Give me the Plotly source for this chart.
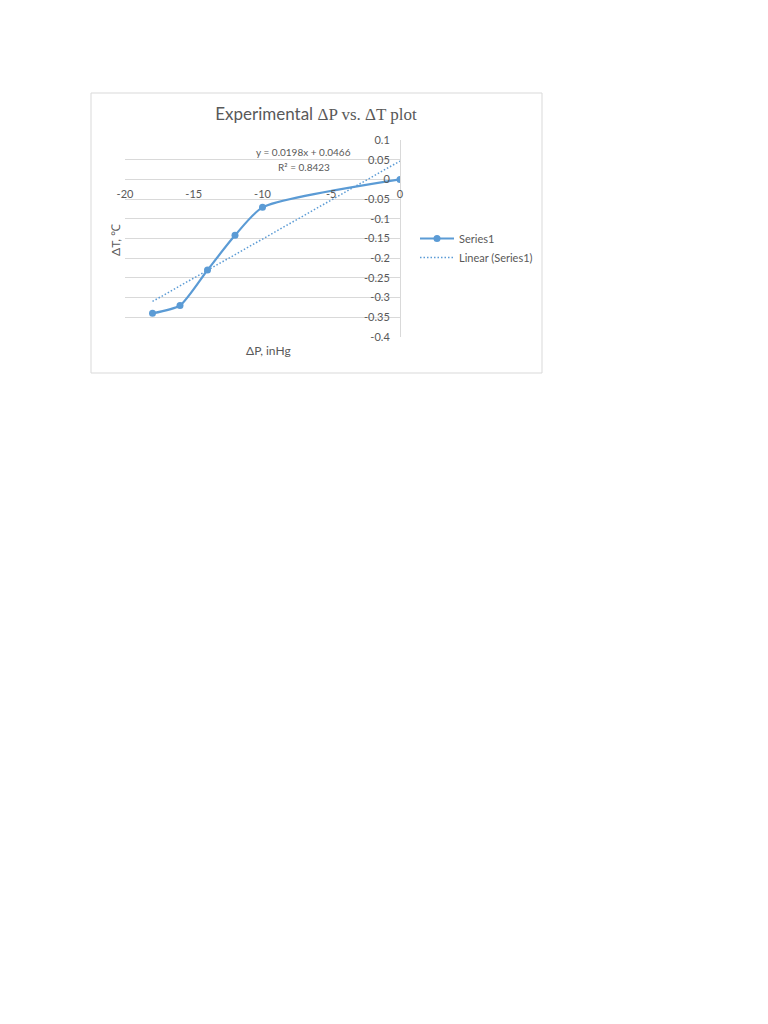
import plotly.graph_objects as go

# Data
dp = [-18, -16, -14, -12, -10, 0]
dt = [-0.34, -0.32, -0.23, -0.142, -0.071, 0]

# Excel linear trendline: y = 0.0198x + 0.0466
slope = 0.0198
intercept = 0.0466
trend_x = [-18, 0]
trend_y = [slope * x + intercept for x in trend_x]

x_ticks = [-20, -15, -10, -5, 0]
x_labels = ['-20', '-15', '-10', '-5', '0']
y_ticks = [0.1, 0.05, 0, -0.05, -0.1, -0.15, -0.2, -0.25, -0.3, -0.35, -0.4]
y_labels = ['0.1', '0.05', '0', '-0.05', '-0.1', '-0.15', '-0.2', '-0.25', '-0.3', '-0.35', '-0.4']

blue = '#5B9BD5'
grey_text = '#595959'
grid = '#D9D9D9'

# page body has an 8px margin, so the figure is 752x1008 drawn at (8, 8)
W, H = 752, 1008
L, T = 117, 132
PW, PH = 275, 197

fig = go.Figure()
fig.add_trace(go.Scatter(
    x=dp, y=dt, mode='lines+markers', name='Series1',
    line=dict(color=blue, width=2.2, shape='spline', smoothing=0.6),
    marker=dict(color=blue, size=7),
))
fig.add_trace(go.Scatter(
    x=trend_x, y=trend_y, mode='lines', name='Linear (Series1)',
    line=dict(color=blue, width=1.5, dash='1.5px,2px'),
))

fig.update_layout(
    width=W, height=H,
    margin=dict(l=L, r=W - L - PW, t=T, b=H - T - PH),
    paper_bgcolor='white', plot_bgcolor='white',
    font=dict(family='Lato, Open Sans, sans-serif', color=grey_text, size=11),
    showlegend=True,
    legend=dict(x=(415 - 125) / PW, y=(337 - 224) / PH, xanchor='left', yanchor='top',
                font=dict(size=11, color=grey_text), tracegroupgap=0,
                itemwidth=34, bgcolor='rgba(0,0,0,0)'),
    xaxis=dict(range=[-20, 0], tickvals=x_ticks, ticktext=x_labels,
               anchor='free', position=0.8, showgrid=False, zeroline=False,
               showline=False, ticks='outside', ticklen=4, tickcolor='rgba(0,0,0,0)',
               fixedrange=True),
    yaxis=dict(range=[-0.4, 0.1], tickvals=y_ticks, ticktext=y_labels,
               anchor='free', position=1.0, side='left', showgrid=True,
               gridcolor=grid, gridwidth=1, zeroline=False, showline=True,
               linecolor=grid, ticks='outside', ticklen=8, tickcolor='rgba(0,0,0,0)',
               fixedrange=True),
    title=dict(
        text="Experimental <span style='font-family:Liberation Serif'>ΔP vs. ΔT plot</span>",
        x=(316 - 8) / W, xanchor='center', y=1 - (114 - 8) / H, yanchor='middle',
        font=dict(size=17, color=grey_text, family='Lato, sans-serif'),
    ),
)

# Chart frame like the Excel chart area
fig.add_shape(type='rect', xref='paper', yref='paper',
              x0=(91 - 125) / PW, x1=(542 - 125) / PW,
              y0=(337 - 373) / PH, y1=(337 - 93) / PH,
              line=dict(color='#D9D9D9', width=1), fillcolor='rgba(0,0,0,0)')

# Trendline equation
fig.add_annotation(x=-7.0, y=0.069, xref='x', yref='y', showarrow=False,
                   text='y = 0.0198x + 0.0466', font=dict(size=10, color=grey_text))
fig.add_annotation(x=-7.0, y=0.031, xref='x', yref='y', showarrow=False,
                   text='R² = 0.8423', font=dict(size=10, color=grey_text))

# Axis titles
fig.add_annotation(x=(268 - 125) / PW, y=(337 - 350) / PH, xref='paper', yref='paper',
                   xanchor='center', yanchor='middle',
                   showarrow=False, text='ΔP, inHg', font=dict(size=12, color=grey_text))
fig.add_annotation(x=(115 - 125) / PW, y=(337 - 240) / PH, xref='paper', yref='paper',
                   xanchor='center', yanchor='middle',
                   showarrow=False, text='ΔT, ℃', textangle=-90,
                   font=dict(size=12, color=grey_text))

fig.write_html('out.html')
